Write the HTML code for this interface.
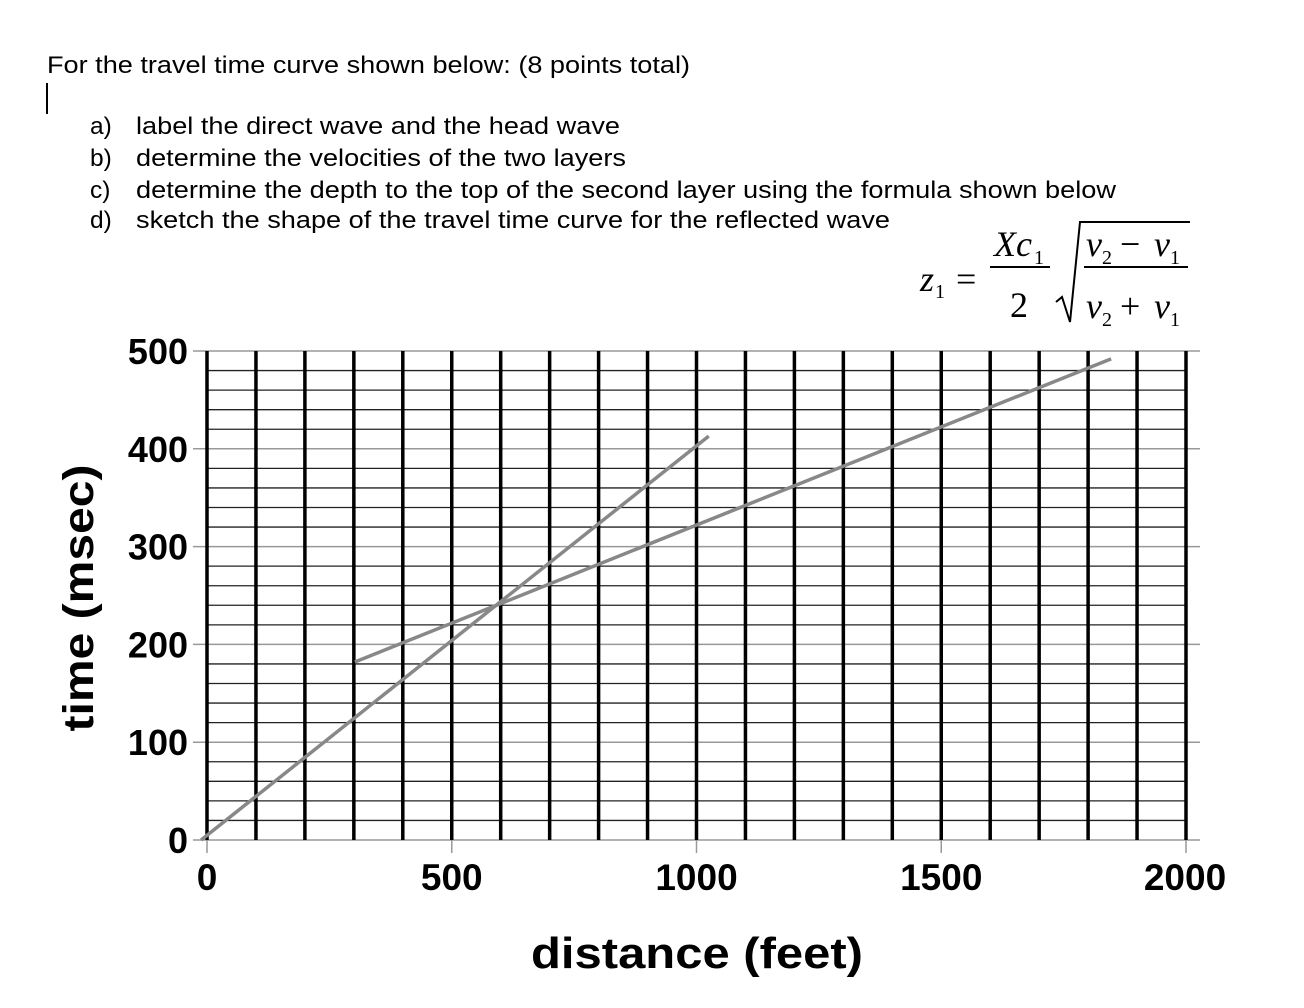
<!DOCTYPE html>
<html><head><meta charset="utf-8"><style>
html,body{margin:0;padding:0;background:#fff;}
svg{display:block;font-family:"Liberation Sans",Arial,sans-serif;}
</style></head><body>
<svg width="1304" height="1008" viewBox="0 0 1304 1008">
<g font-size="24.5" fill="#000">
<text x="47" y="73" textLength="643" lengthAdjust="spacingAndGlyphs">For the travel time curve shown below: (8 points total)</text>
<rect x="46" y="83" width="2" height="31" fill="#000"/>
<text x="90" y="134">a)</text>
<text x="136" y="134" textLength="484" lengthAdjust="spacingAndGlyphs">label the direct wave and the head wave</text>
<text x="90" y="166">b)</text>
<text x="136" y="166" textLength="490" lengthAdjust="spacingAndGlyphs">determine the velocities of the two layers</text>
<text x="90" y="198">c)</text>
<text x="136" y="198" textLength="980" lengthAdjust="spacingAndGlyphs">determine the depth to the top of the second layer using the formula shown below</text>
<text x="90" y="228">d)</text>
<text x="136" y="228" textLength="754" lengthAdjust="spacingAndGlyphs">sketch the shape of the travel time curve for the reflected wave</text>
</g>
<g font-family="Liberation Serif,serif" fill="#000">
<text x="920" y="291" font-size="36" font-style="italic">z</text>
<text x="935" y="298" font-size="20">1</text>
<text x="956" y="291" font-size="36">=</text>
<text x="994" y="256" font-size="36" font-style="italic">Xc</text>
<text x="1034" y="264" font-size="20">1</text>
<rect x="990" y="266" width="60" height="2" fill="#000"/>
<text x="1010" y="317" font-size="36">2</text>
<path d="M1056,302 L1062,297 L1070,322 L1080,222 L1190,222" fill="none" stroke="#000" stroke-width="2"/>
<text x="1086" y="256" font-size="36" font-style="italic">v</text>
<text x="1102" y="264" font-size="20">2</text>
<text x="1120" y="256" font-size="36">−</text>
<text x="1154" y="256" font-size="36" font-style="italic">v</text>
<text x="1170" y="264" font-size="20">1</text>
<rect x="1084" y="266" width="104" height="2" fill="#000"/>
<text x="1086" y="318" font-size="36" font-style="italic">v</text>
<text x="1102" y="326" font-size="20">2</text>
<text x="1120" y="318" font-size="36">+</text>
<text x="1154" y="318" font-size="36" font-style="italic">v</text>
<text x="1170" y="326" font-size="20">1</text>
</g>
<g id="chart"></g>
</svg>
<script>
const xTicks=[0,500,1000,1500,2000];
const yTicks=[0,100,200,300,400,500];
const directX=[-12,1025];
const directT=[0,413];
const headX=[302,1847];
const headT=[182,492];
const NS='http://www.w3.org/2000/svg';
const g=document.getElementById('chart');
function sx(v){return 207+v*(1186-207)/2000;}
function sy(v){return 840-v*(840-351)/500;}
function mk(tag,attrs){const e=document.createElementNS(NS,tag);for(const k in attrs)e.setAttribute(k,attrs[k]);g.appendChild(e);return e;}
for(let t=0;t<=500;t+=20){
  if(t%100===0)continue;
  const l=mk('line',{x1:sx(0),x2:sx(2000),y1:sy(t),y2:sy(t),stroke:'#222','stroke-width':1.3});
  
  
}
for(const t of yTicks){
  const l=mk('line',{x1:193,x2:1200,y1:sy(t),y2:sy(t),stroke:'#999','stroke-width':1.5});
  
  
  const tx=mk('text',{x:188,y:sy(t)+13,'text-anchor':'end','font-size':36,'font-weight':'bold',fill:'#000'});
  tx.textContent=t;
  
  
}
for(let d=0;d<=2000;d+=100){
  const l=mk('line',{x1:sx(d),x2:sx(d),y1:sy(500),y2:sy(0),stroke:'#000','stroke-width':3.5});
  
  
}
for(const d of xTicks){
  const l=mk('line',{x1:sx(d),x2:sx(d),y1:sy(0),y2:853,stroke:'#999','stroke-width':1.5});
  
  
  const tx=mk('text',{x:sx(d)+(d===2000?-1:0),y:890,'text-anchor':'middle','font-size':37,'font-weight':'bold',fill:'#000'});
  tx.textContent=d;
  
  
}
const dw=mk('line',{x1:sx(directX[0]),y1:sy(directT[0]),x2:sx(directX[1]),y2:sy(directT[1]),stroke:'#888','stroke-width':3.5});


const hw=mk('line',{x1:sx(headX[0]),y1:sy(headT[0]),x2:sx(headX[1]),y2:sy(headT[1]),stroke:'#888','stroke-width':3.5});


const xl=mk('text',{x:697,y:968,'text-anchor':'middle','font-size':44,'font-weight':'bold',fill:'#000',textLength:332,lengthAdjust:'spacingAndGlyphs'});
xl.textContent='distance (feet)';


const yl=mk('text',{x:0,y:0,'text-anchor':'middle','font-size':43,'font-weight':'bold',fill:'#000',transform:'translate(93,598) rotate(-90)',textLength:267,lengthAdjust:'spacingAndGlyphs'});
yl.textContent='time (msec)';


</script>
</body></html>
